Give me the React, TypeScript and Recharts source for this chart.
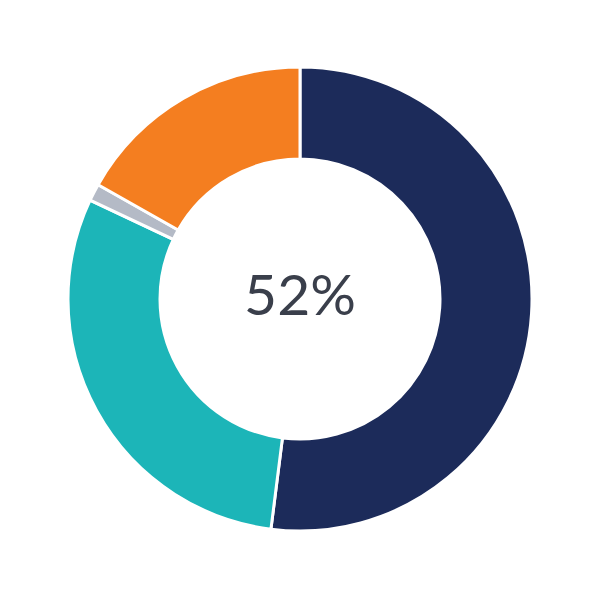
import { PieChart, Pie, Cell } from 'recharts';

const labels = ['A', 'B', 'C', 'D'];
const values = [52, 30, 1.2, 16.8];
const COLORS = ['#1c2b5a', '#1cb5b8', '#b4bac6', '#f47e20'];

const data = labels.map((name, i) => ({ name, value: values[i] }));

export default function App() {
  return (
    <div style={{ position: 'absolute', left: 0, top: 0, width: 600, height: 600, background: '#fff' }}>
      <PieChart width={600} height={600} margin={{ top: 0, right: 0, bottom: 0, left: 0 }}>
        <Pie
          data={data}
          dataKey="value"
          cx={300}
          cy={299}
          innerRadius={140}
          outerRadius={232}
          startAngle={90}
          endAngle={-270}
          stroke="#fff"
          strokeWidth={3}
          isAnimationActive={false}
        >
          {data.map((d, i) => (
            <Cell key={d.name} fill={COLORS[i]} />
          ))}
        </Pie>
        <text
          x={300}
          y={293}
          textAnchor="middle"
          dominantBaseline="central"
          fontFamily="Lato"
          fontSize={57}
          fill="#3a3f4b"
        >
          52%
        </text>
      </PieChart>
    </div>
  );
}
